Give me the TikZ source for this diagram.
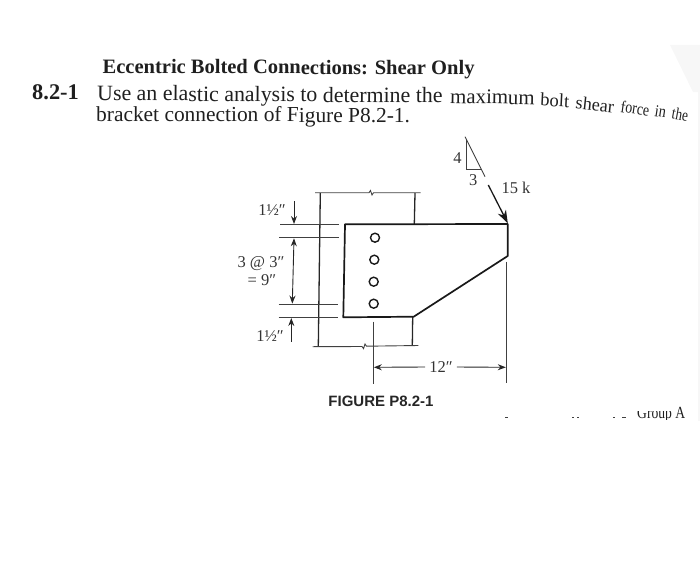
\documentclass[tikz,border=0pt]{standalone}
\usepackage{fontspec}
\usepackage{graphicx}
\setmainfont{Liberation Serif}
\newfontfamily\figsans{Liberation Sans}
\usetikzlibrary{arrows.meta}
\tikzset{
  heavy/.style={draw=black!90,line width=1.7pt,line join=round},
  med/.style={draw=black!85,line width=1.3pt},
  thin line/.style={draw=black!75,line width=.9pt},
  dimarrow/.style={draw=black!85,line width=.9pt,-{Stealth[length=8pt,width=6pt]}},
  bothdim/.style={draw=black!85,line width=.9pt,{Stealth[length=8pt,width=6pt]}-{Stealth[length=8pt,width=6pt]}},
  bolt/.style={circle,draw=black!90,line width=1.4pt,minimum size=9pt,inner sep=0pt},
  body/.style={anchor=base west,inner sep=0pt,text=black!88},
  lab/.style={inner sep=0pt,text=black!80,font=\fontsize{16.5}{18}\selectfont},
}
\begin{document}
\begin{tikzpicture}[x=1pt,y=-1pt]
\useasboundingbox (0,0) rectangle (700,586);
% page shading at the corner
\fill[black!3] (670,45) -- (700,45) -- (700,92) -- (693,92) -- cycle;
\fill[black!3] (698,45) rectangle (700,421);
% headings
\node[body,rotate=-0.3,font=\fontsize{20.5}{24}\selectfont\bfseries] (head) at (102.5,73) {Eccentric Bolted Connections: Shear Only};
\node[body,font=\fontsize{22.4}{24}\selectfont\bfseries] (num) at (32,99.3) {8.2-1};
\node[body,rotate=-0.45,font=\fontsize{21.9}{24}\selectfont] (w1) at (97,100.3) {Use an elastic analysis to determine the};
\node[body,rotate=-1.2,font=\fontsize{20.8}{24}\selectfont] (w2) at (450,103) {maximum};
\node[body,rotate=-3,font=\fontsize{18.5}{24}\selectfont] (w3) at (540,105.8) {bolt};
\node[body,rotate=-6,font=\fontsize{18.2}{24}\selectfont] (w4) at (575,108.6) {shear};
\node[body,rotate=-8,font=\fontsize{17}{24}\selectfont] (w5) at (620,112.3) {\scalebox{.82}[1]{force}};
\node[body,rotate=-9,font=\fontsize{17}{24}\selectfont] (w6) at (654,116.3) {\scalebox{.85}[1]{in}};
\node[body,rotate=-10,font=\fontsize{17}{24}\selectfont] (w7) at (671,118.5) {\scalebox{.78}[1]{the}};
\node[body,rotate=-0.2,font=\fontsize{21.4}{24}\selectfont] (l2) at (96,121.3) {bracket connection of Figure P8.2-1.};
% column and flanges
\coordinate (ct) at (320.3,193); \coordinate (cb) at (318.3,346.5);
\coordinate (ftl) at (315,192.7); \coordinate (ftr) at (420.7,192.7);
\coordinate (fbl) at (312.7,346.7); \coordinate (fbr) at (418.3,345.5);
\coordinate (st1) at (415,193); \coordinate (st2) at (414.3,224.3);
\coordinate (sb1) at (412.7,316.8); \coordinate (sb2) at (412.3,345.5);
\draw[med] (ct) -- (cb);
\draw[med] (st1) -- (st2);
\draw[med] (sb1) -- (sb2);
\draw[thin line] (ftl) -- (369,192.7) -- (370.5,190.5) -- (372,195) -- (373.5,192.7) -- (ftr);
\draw[thin line] (fbl) -- (362,346.5) -- (363.5,348.6) -- (365,344) -- (366.5,346.2) -- (fbr);
% plate
\draw[heavy] (345,224.3) -- (507.7,224) -- (507.7,256) -- (413.7,316.7) -- (343.3,317.3) -- cycle;
% bolts
\node[bolt] (b1) at (375,237.7) {};
\node[bolt] (b2) at (374.3,259.7) {};
\node[bolt] (b3) at (373.7,281.7) {};
\node[bolt] (b4) at (373.7,303.7) {};
% dimension witness lines
\coordinate (a1) at (280,224.5); \coordinate (a2) at (339.3,224.5);
\coordinate (c1) at (279.3,237.8); \coordinate (c2) at (339.3,237.8);
\coordinate (d1) at (278.7,304); \coordinate (d2) at (338,304);
\coordinate (e1) at (278.7,317.3); \coordinate (e2) at (338,317.3);
\draw[thin line] (a1) -- (a2);
\draw[thin line] (c1) -- (c2);
\draw[thin line] (d1) -- (d2);
\draw[thin line] (e1) -- (e2);
% dimension arrows
\coordinate (t0) at (294,201); \coordinate (t1) at (294,224);
\coordinate (m0) at (294,238.3); \coordinate (m1) at (292.3,303.6);
\coordinate (u0) at (291.3,341.7); \coordinate (u1) at (291.3,318);
\draw[dimarrow] (t0) -- (t1);
\draw[bothdim] (m0) -- (m1);
\draw[dimarrow] (u0) -- (u1);
\node[lab] (t15) at (272,210) {1½″};
\node[lab] (m39) at (261,263.5) {3 @ 3″};
\node[lab] (m9) at (262,280) {= 9″};
\node[lab] (u15) at (270,336.5) {1½″};
% 12 inch dimension
\coordinate (x1t) at (373.3,321.7); \coordinate (x1b) at (373.3,384.3);
\coordinate (x2t) at (506.3,261.7); \coordinate (x2b) at (506.3,382.7);
\draw[thin line] (x1t) -- (x1b);
\draw[thin line] (x2t) -- (x2b);
\node[lab] (d12) at (441,367) {12″};
\draw[dimarrow] (d12.west) ++(-4,0) -- (373.8,367.3);
\draw[dimarrow] (d12.east) ++(4,0) -- (505.8,367.3);
% force and slope triangle
\coordinate (f0) at (488.3,185); \coordinate (f1) at (507.8,223.3);
\draw[draw=black!90,line width=1.3pt,-{Stealth[length=13pt,width=9pt]}] (f0) -- (f1);
\coordinate (s0) at (465,136.7); \coordinate (s1) at (466.7,140); \coordinate (s2) at (466.7,169); \coordinate (s3) at (480.7,169); \coordinate (s4) at (485,176.7);
\draw[thin line] (s1) -- (s2) -- (s3);
\draw[thin line] (s0) -- (s4);
\node[lab] (four) at (457.5,158.3) {4};
\node[lab] (three) at (473.3,180) {3};
\node[lab] (load) at (516,188.3) {15 k};
% caption
\node[inner sep=0pt,font=\figsans\bfseries\fontsize{15}{17}\selectfont,text=black!85] (cap) at (381,401) {FIGURE P8.2-1};
% cut-off line at the bottom of the page
\begin{scope}
\clip (480,411) rectangle (673,419) (673,405) rectangle (700,419);
\node[body,font=\fontsize{17}{19}\selectfont] (grp) at (637,418.3) {\scalebox{.8}[1]{Group A}};
\end{scope}
\coordinate (q1) at (505,417.5); \coordinate (q2) at (508,417.5);
\coordinate (q3) at (572,417.5); \coordinate (q4) at (574,417.5);
\coordinate (q5) at (577,417.5); \coordinate (q6) at (579,417.5);
\coordinate (q7) at (613,417.5); \coordinate (q8) at (615,417.5);
\coordinate (q9) at (622,417.5); \coordinate (q10) at (626,417.5);
\draw[thin line] (q1) -- (q2);
\draw[thin line] (q3) -- (q4);
\draw[thin line] (q5) -- (q6);
\draw[thin line] (q7) -- (q8);
\draw[thin line] (q9) -- (q10);
\end{tikzpicture}
\end{document}
